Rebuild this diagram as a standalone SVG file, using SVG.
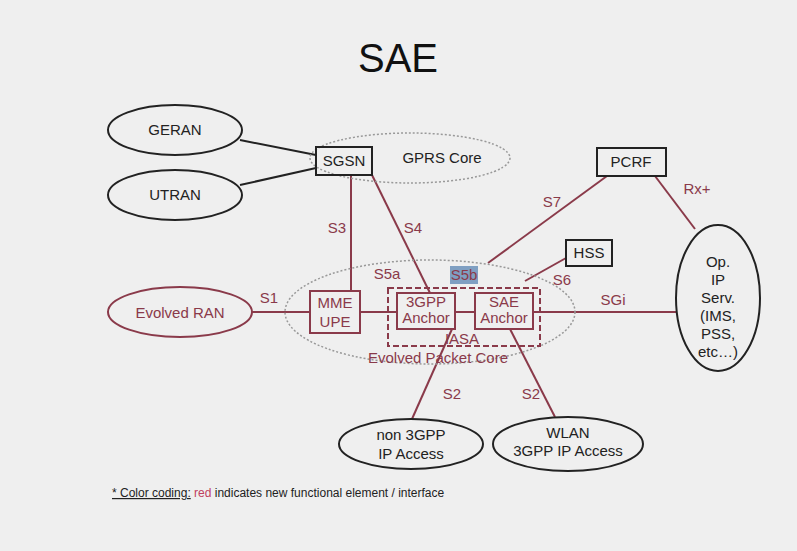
<svg xmlns="http://www.w3.org/2000/svg" width="797" height="551" viewBox="0 0 797 551">
<style>
text{font-family:"Liberation Sans",Arial,sans-serif;text-anchor:middle}
.k{fill:none;stroke:#222;stroke-width:2}
.r{fill:none;stroke:#8a3a4a;stroke-width:2}
.d{fill:none;stroke:#999;stroke-width:1.5;stroke-dasharray:2 2}
.tk{fill:#222;font-size:15px}
.tr{fill:#8a3a4a;font-size:15px}
</style>
<rect width="797" height="551" fill="#efefef"/>
<text x="398" y="72" font-size="40" fill="#111">SAE</text>
<g id="connectors">
<line class="k" x1="240" y1="140" x2="316" y2="155"/>
<line class="k" x1="240" y1="185" x2="316" y2="168"/>
<line class="r" x1="351" y1="175" x2="351" y2="291"/>
<line class="r" x1="372" y1="175" x2="430" y2="293"/>
<line class="r" x1="252" y1="312" x2="310" y2="312"/>
<line class="r" x1="360" y1="312" x2="397" y2="312"/>
<line class="r" x1="455" y1="312" x2="475" y2="312"/>
<line class="r" x1="533" y1="312" x2="676" y2="312"/>
<line class="r" x1="488" y1="263" x2="607" y2="176"/>
<line class="r" x1="655" y1="176" x2="695" y2="229"/>
<line class="r" x1="525" y1="281" x2="566" y2="258"/>
<line class="r" x1="452" y1="329" x2="412" y2="419"/>
<line class="r" x1="510" y1="329" x2="555" y2="417"/>
</g>
<g id="gprs"><ellipse class="d" cx="410" cy="158" rx="100" ry="25"/><text class="tk" x="442" y="163" font-size="13">GPRS Core</text></g>
<g id="epc"><ellipse class="d" cx="430" cy="312" rx="145" ry="52"/><text class="tr" x="438" y="363">Evolved Packet Core</text></g>
<g id="geran"><ellipse class="k" cx="175" cy="130" rx="67" ry="25" fill="#f5f5f5"/><text class="tk" x="175" y="135">GERAN</text></g>
<g id="utran"><ellipse class="k" cx="175" cy="195" rx="67" ry="25" fill="#f5f5f5"/><text class="tk" x="175" y="200">UTRAN</text></g>
<g id="sgsn"><rect class="k" x="316" y="147" width="56" height="28" fill="#f5f5f5"/><text class="tk" x="344" y="166">SGSN</text></g>
<g id="pcrf"><rect class="k" x="597" y="148" width="69" height="28" fill="#f5f5f5"/><text class="tk" x="631" y="167">PCRF</text></g>
<g id="hss"><rect class="k" x="566" y="240" width="46" height="26" fill="#f5f5f5"/><text class="tk" x="589" y="258">HSS</text></g>
<g id="opip"><ellipse class="k" cx="718" cy="298" rx="42" ry="73" fill="#f5f5f5"/>
<text class="tk" x="718" y="267">Op.</text><text class="tk" x="718" y="285">IP</text><text class="tk" x="718" y="303">Serv.</text><text class="tk" x="718" y="321">(IMS,</text><text class="tk" x="718" y="339">PSS,</text><text class="tk" x="718" y="357">etc…)</text></g>
<g id="eran"><ellipse class="r" cx="180" cy="312" rx="72" ry="25" fill="#f5f5f5"/><text class="tr" x="180" y="318">Evolved RAN</text></g>
<g id="iasa"><rect x="388" y="288" width="152" height="58" fill="none" stroke="#8a3a4a" stroke-width="2" stroke-dasharray="6 3"/><text class="tr" x="462" y="344" font-size="10">IASA</text></g>
<g id="mme"><rect class="r" x="310" y="291" width="50" height="42" fill="#f5f5f5"/><text class="tr" x="335" y="308">MME</text><text class="tr" x="335" y="327">UPE</text></g>
<g id="anchor3gpp"><rect class="r" x="397" y="293" width="58" height="36" fill="#f5f5f5"/><text class="tr" x="426" y="307" font-size="11">3GPP</text><text class="tr" x="426" y="323" font-size="11">Anchor</text></g>
<g id="saeanchor"><rect class="r" x="475" y="293" width="58" height="36" fill="#f5f5f5"/><text class="tr" x="504" y="307" font-size="11">SAE</text><text class="tr" x="504" y="323" font-size="11">Anchor</text></g>
<g id="non3gpp"><ellipse class="k" cx="411" cy="444" rx="72" ry="25" fill="#f5f5f5"/><text class="tk" x="411" y="440">non 3GPP</text><text class="tk" x="411" y="459">IP Access</text></g>
<g id="wlan"><ellipse class="k" cx="568" cy="444" rx="75" ry="27" fill="#f5f5f5"/><text class="tk" x="568" y="438">WLAN</text><text class="tk" x="568" y="456">3GPP IP Access</text></g>
<g id="labels">
<text class="tr" x="337" y="233">S3</text><text class="tr" x="413" y="233">S4</text>
<text class="tr" x="387" y="279">S5a</text>
<rect x="450" y="266" width="28" height="18" fill="#7f9fc2"/><text class="tr" x="464" y="280">S5b</text>
<text class="tr" x="562" y="285">S6</text><text class="tr" x="552" y="207">S7</text><text class="tr" x="697" y="194">Rx+</text>
<text class="tr" x="269" y="303">S1</text><text class="tr" x="613" y="305">SGi</text>
<text class="tr" x="452" y="399">S2</text><text class="tr" x="531" y="399">S2</text>
</g>
<text x="112" y="497" font-size="12" fill="#222" style="text-anchor:start"><tspan text-decoration="underline">* Color coding:</tspan> <tspan fill="#c04060">red</tspan> indicates new functional element / interface</text>
</svg>
